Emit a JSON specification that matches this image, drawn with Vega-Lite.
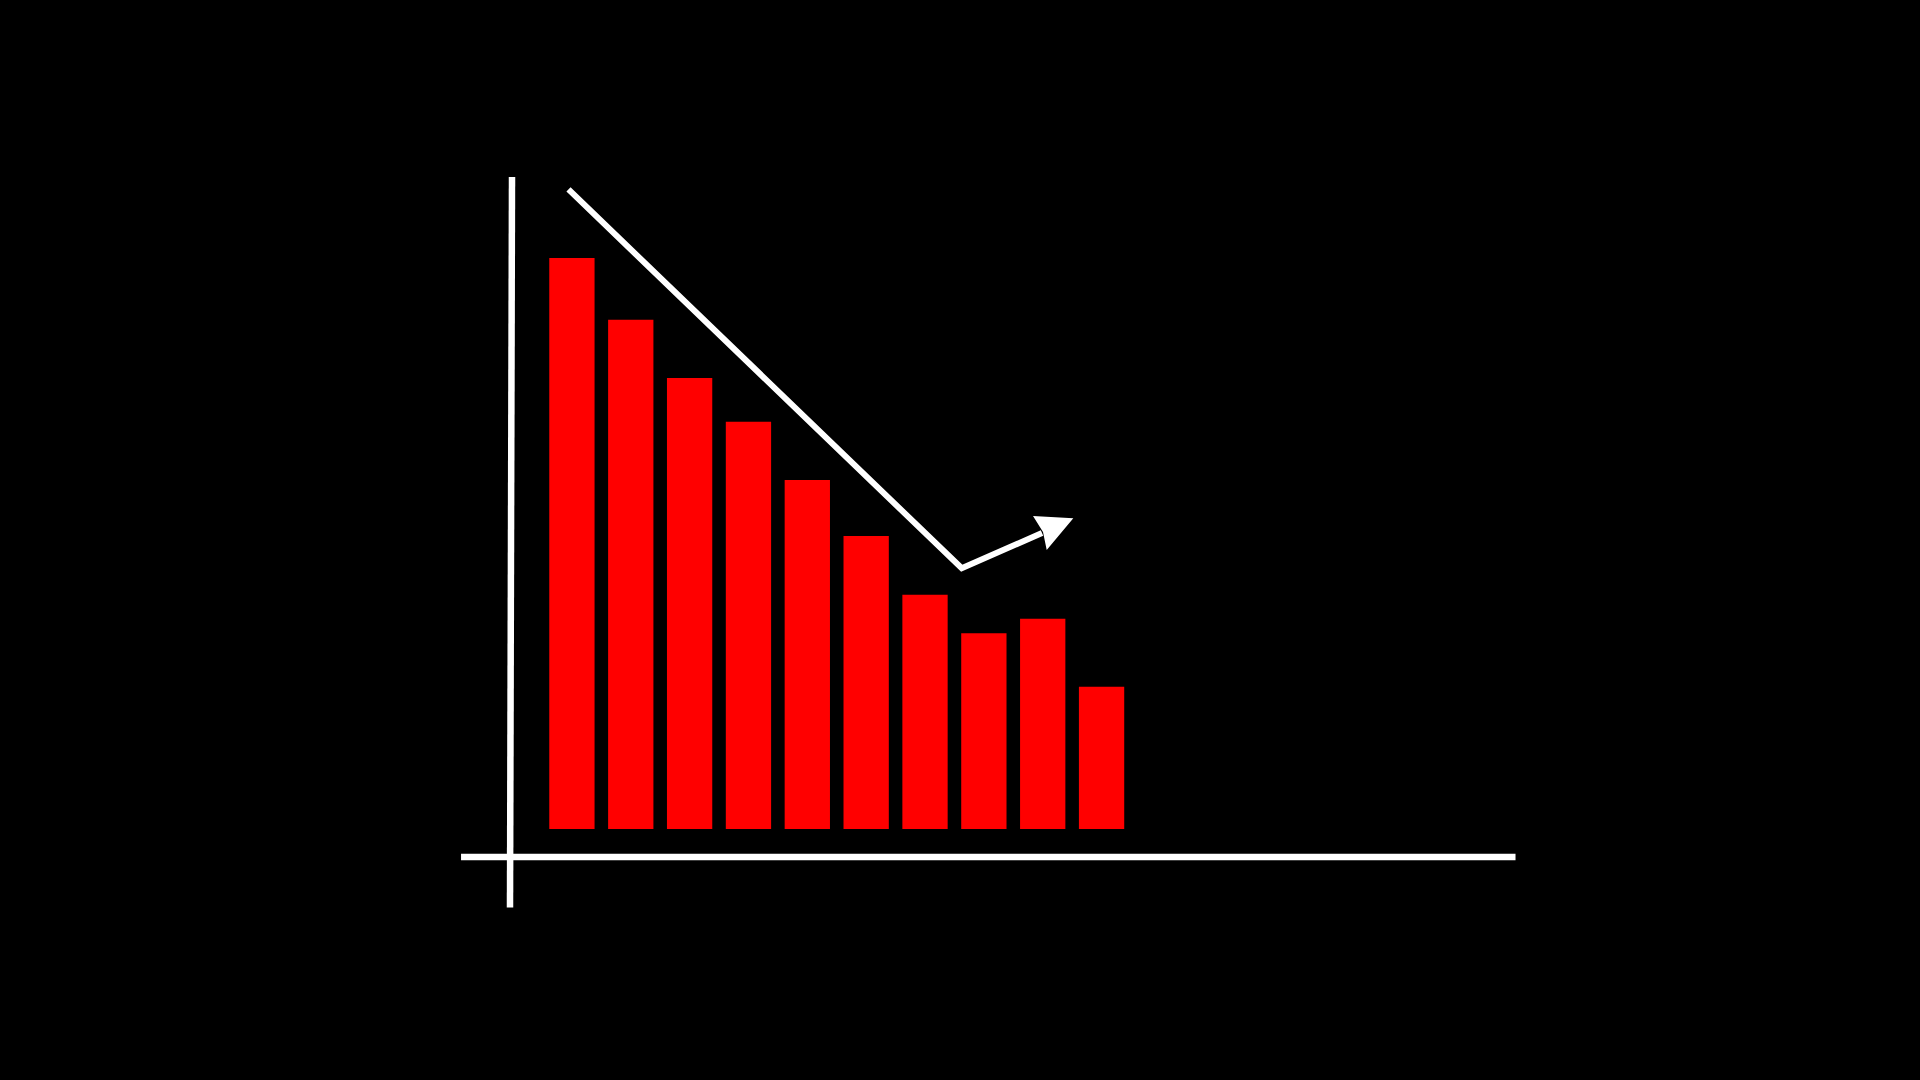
{
  "$schema": "https://vega.github.io/schema/vega-lite/v6.json",
  "description": "Falling red bars with a downward trend line that turns up at the end",
  "width": 1920,
  "height": 1080,
  "autosize": {"type": "fit", "contains": "padding"},
  "padding": 0,
  "background": "#000000",
  "config": {"view": {"stroke": null}},
  "datasets": {
    "bars": [
      {"i": 1, "value": 100},
      {"i": 2, "value": 89.2},
      {"i": 3, "value": 79.0},
      {"i": 4, "value": 71.3},
      {"i": 5, "value": 61.1},
      {"i": 6, "value": 51.3},
      {"i": 7, "value": 41.0},
      {"i": 8, "value": 34.3},
      {"i": 9, "value": 36.8},
      {"i": 10, "value": 24.9}
    ],
    "axes": [
      {"name": "vertical", "x": -0.018, "y": 114.19, "x2": -0.052, "y2": -13.75},
      {"name": "horizontal", "x": -0.884, "y": -4.9, "x2": 17.034, "y2": -4.9}
    ],
    "trend": [
      {"step": 1, "x": 0.942, "y": 112.0},
      {"step": 2, "x": 7.624, "y": 45.66},
      {"step": 3, "x": 8.988, "y": 51.84}
    ],
    "head": [
      {"x": 9.141, "y": 52.7}
    ]
  },
  "layer": [
    {
      "data": {"name": "bars"},
      "mark": {"type": "bar", "color": "#FF0000", "width": 45.3},
      "encoding": {
        "x": {
          "field": "i",
          "type": "quantitative",
          "scale": {"domain": [-8.718, 23.907], "nice": false, "zero": false, "padding": 0},
          "axis": null
        },
        "y": {
          "field": "value",
          "type": "quantitative",
          "scale": {"domain": [-43.96, 145.18], "nice": false, "zero": false, "padding": 0},
          "axis": null
        },
        "y2": {"datum": 0}
      }
    },
    {
      "data": {"name": "axes"},
      "mark": {"type": "rule", "color": "#FFFFFF", "strokeWidth": 6.5, "strokeCap": "butt"},
      "encoding": {
        "x": {"field": "x", "type": "quantitative"},
        "y": {"field": "y", "type": "quantitative"},
        "x2": {"field": "x2"},
        "y2": {"field": "y2"}
      }
    },
    {
      "data": {"name": "trend"},
      "mark": {"type": "line", "color": "#FFFFFF", "strokeWidth": 6, "strokeCap": "butt", "strokeJoin": "miter"},
      "encoding": {
        "x": {"field": "x", "type": "quantitative"},
        "y": {"field": "y", "type": "quantitative"},
        "order": {"field": "step"}
      }
    },
    {
      "data": {"name": "head"},
      "mark": {
        "type": "point",
        "shape": "M-0.807,-0.543L1,-0.439L-0.193,0.982L-0.359,0.175Z",
        "size": 1989,
        "filled": true,
        "color": "#FFFFFF",
        "opacity": 1,
        "strokeWidth": 0
      },
      "encoding": {
        "x": {"field": "x", "type": "quantitative"},
        "y": {"field": "y", "type": "quantitative"}
      }
    }
  ]
}
